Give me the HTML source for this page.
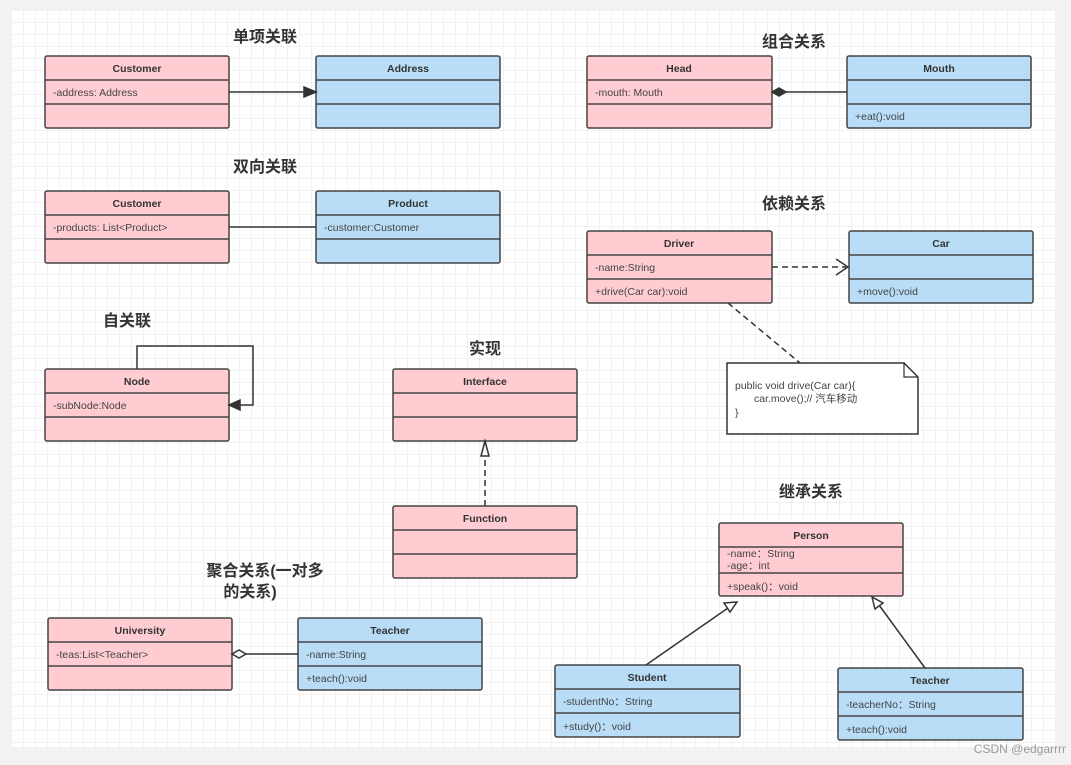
<!DOCTYPE html>
<html><head><meta charset="utf-8"><style>
body{margin:0;background:#f2f2f2;}
svg{display:block;font-family:"Liberation Sans","Noto Sans CJK SC",sans-serif;}
.t{font-size:16px;font-weight:bold;fill:#333;text-anchor:middle;}
.h{font-size:10.5px;font-weight:bold;fill:#333;text-anchor:middle;}
.a{font-size:10.5px;fill:#444;}
</style></head><body>
<svg width="1071" height="765" xmlns="http://www.w3.org/2000/svg">
<defs>
<pattern id="g" width="12" height="12" patternUnits="userSpaceOnUse" x="12" y="11">
<path d="M12 0V12M0 12H12" fill="none" stroke="#e4e4e4" stroke-width="1"/>
</pattern>
</defs>
<rect x="0" y="0" width="1071" height="765" fill="#f2f2f2"/>
<rect x="12" y="11" width="1044" height="736" fill="#fff"/>
<rect x="12" y="11" width="1044" height="736" fill="url(#g)"/>

<g stroke="#444" stroke-width="1.5">
<!-- pink boxes -->
<g fill="#ffccd2">
<rect x="45" y="56" width="184" height="72" rx="2"/>
<rect x="45" y="191" width="184" height="72" rx="2"/>
<rect x="45" y="369" width="184" height="72" rx="2"/>
<rect x="393" y="369" width="184" height="72" rx="2"/>
<rect x="393" y="506" width="184" height="72" rx="2"/>
<rect x="48" y="618" width="184" height="72" rx="2"/>
<rect x="587" y="56" width="185" height="72" rx="2"/>
<rect x="587" y="231" width="185" height="72" rx="2"/>
<rect x="719" y="523" width="184" height="73" rx="2"/>
</g>
<g fill="#b9ddf7">
<rect x="316" y="56" width="184" height="72" rx="2"/>
<rect x="316" y="191" width="184" height="72" rx="2"/>
<rect x="298" y="618" width="184" height="72" rx="2"/>
<rect x="847" y="56" width="184" height="72" rx="2"/>
<rect x="849" y="231" width="184" height="72" rx="2"/>
<rect x="555" y="665" width="185" height="72" rx="2"/>
<rect x="838" y="668" width="185" height="72" rx="2"/>
</g>
<path fill="none" d="
M45 80H229M45 104H229 M316 80H500M316 104H500
M45 215H229M45 239H229 M316 215H500M316 239H500
M45 393H229M45 417H229 M393 393H577M393 417H577
M393 530H577M393 554H577 M48 642H232M48 666H232
M298 642H482M298 666H482 M587 80H772M587 104H772
M847 80H1031M847 104H1031 M587 255H772M587 279H772
M849 255H1033M849 279H1033 M719 547H903M719 573H903
M555 689H740M555 713H740 M838 692H1023M838 716H1023"/>
</g>

<!-- connectors -->
<g stroke="#333" stroke-width="1.5" fill="none">
<path d="M229 92H306"/>
<path d="M229 227H316"/>
<path d="M137 369V346H253V405H239"/>
<path d="M485 506V456" stroke-dasharray="6,4"/>
<path d="M246 654H298"/>
<path d="M786 92H847"/>
<path d="M772 267H846" stroke-dasharray="6,4"/>
<path d="M836 259L848 267L836 275"/>
<path d="M728 303L800 363" stroke-dasharray="6,4"/>
<path d="M646 665L728 608"/>
<path d="M925 668L879 605"/>
</g>
<g stroke="#333" stroke-width="1.5">
<path d="M316 92L304 87V97Z" fill="#333"/>
<path d="M229 405L240 400V410Z" fill="#333"/>
<path d="M485 441L481 456H489Z" fill="#fff"/>
<path d="M232 654L239 650L246 654L239 658Z" fill="#fff"/>
<path d="M772 92L779 88L786 92L779 96Z" fill="#333"/>
<path d="M737 602L724 603L730 612Z" fill="#fff"/>
<path d="M872 597L875 609L883 603Z" fill="#fff"/>
</g>
<!-- note -->
<path d="M727 363H904L918 377V434H727Z" fill="#fff" stroke="#333" stroke-width="1.5"/>
<path d="M904 363V377H918" fill="none" stroke="#333" stroke-width="1.2"/>
<text class="a" x="735" y="389">public void drive(Car car){</text>
<text class="a" x="754" y="402">car.move();// 汽车移动</text>
<text class="a" x="735" y="416">}</text>

<!-- titles -->
<text class="t" x="265" y="42">单项关联</text>
<text class="t" x="265" y="172">双向关联</text>
<text class="t" x="127" y="326">自关联</text>
<text class="t" x="485" y="354">实现</text>
<text class="t" x="265" y="576">聚合关系(一对多</text>
<text class="t" x="250" y="597">的关系)</text>
<text class="t" x="794" y="47">组合关系</text>
<text class="t" x="794" y="209">依赖关系</text>
<text class="t" x="811" y="497">继承关系</text>

<!-- headers -->
<text class="h" x="137" y="72">Customer</text>
<text class="h" x="408" y="72">Address</text>
<text class="h" x="137" y="207">Customer</text>
<text class="h" x="408" y="207">Product</text>
<text class="h" x="137" y="385">Node</text>
<text class="h" x="485" y="385">Interface</text>
<text class="h" x="485" y="522">Function</text>
<text class="h" x="140" y="634">University</text>
<text class="h" x="390" y="634">Teacher</text>
<text class="h" x="679" y="72">Head</text>
<text class="h" x="939" y="72">Mouth</text>
<text class="h" x="679" y="247">Driver</text>
<text class="h" x="941" y="247">Car</text>
<text class="h" x="811" y="539">Person</text>
<text class="h" x="647" y="681">Student</text>
<text class="h" x="930" y="684">Teacher</text>

<!-- attrs -->
<text class="a" x="53" y="96">-address: Address</text>
<text class="a" x="53" y="231">-products: List&lt;Product&gt;</text>
<text class="a" x="324" y="231">-customer:Customer</text>
<text class="a" x="53" y="409">-subNode:Node</text>
<text class="a" x="56" y="658">-teas:List&lt;Teacher&gt;</text>
<text class="a" x="306" y="658">-name:String</text>
<text class="a" x="306" y="682">+teach():void</text>
<text class="a" x="595" y="96">-mouth: Mouth</text>
<text class="a" x="855" y="120">+eat():void</text>
<text class="a" x="595" y="271">-name:String</text>
<text class="a" x="595" y="295">+drive(Car car):void</text>
<text class="a" x="857" y="295">+move():void</text>
<text class="a" x="727" y="557">-name：String</text>
<text class="a" x="727" y="569">-age：int</text>
<text class="a" x="727" y="590">+speak()：void</text>
<text class="a" x="563" y="705">-studentNo：String</text>
<text class="a" x="563" y="730">+study()：void</text>
<text class="a" x="846" y="708">-teacherNo：String</text>
<text class="a" x="846" y="733">+teach():void</text>

<text x="1066" y="753" font-size="12" fill="#999" text-anchor="end">CSDN @edgarrrr</text>
</svg>
</body></html>
